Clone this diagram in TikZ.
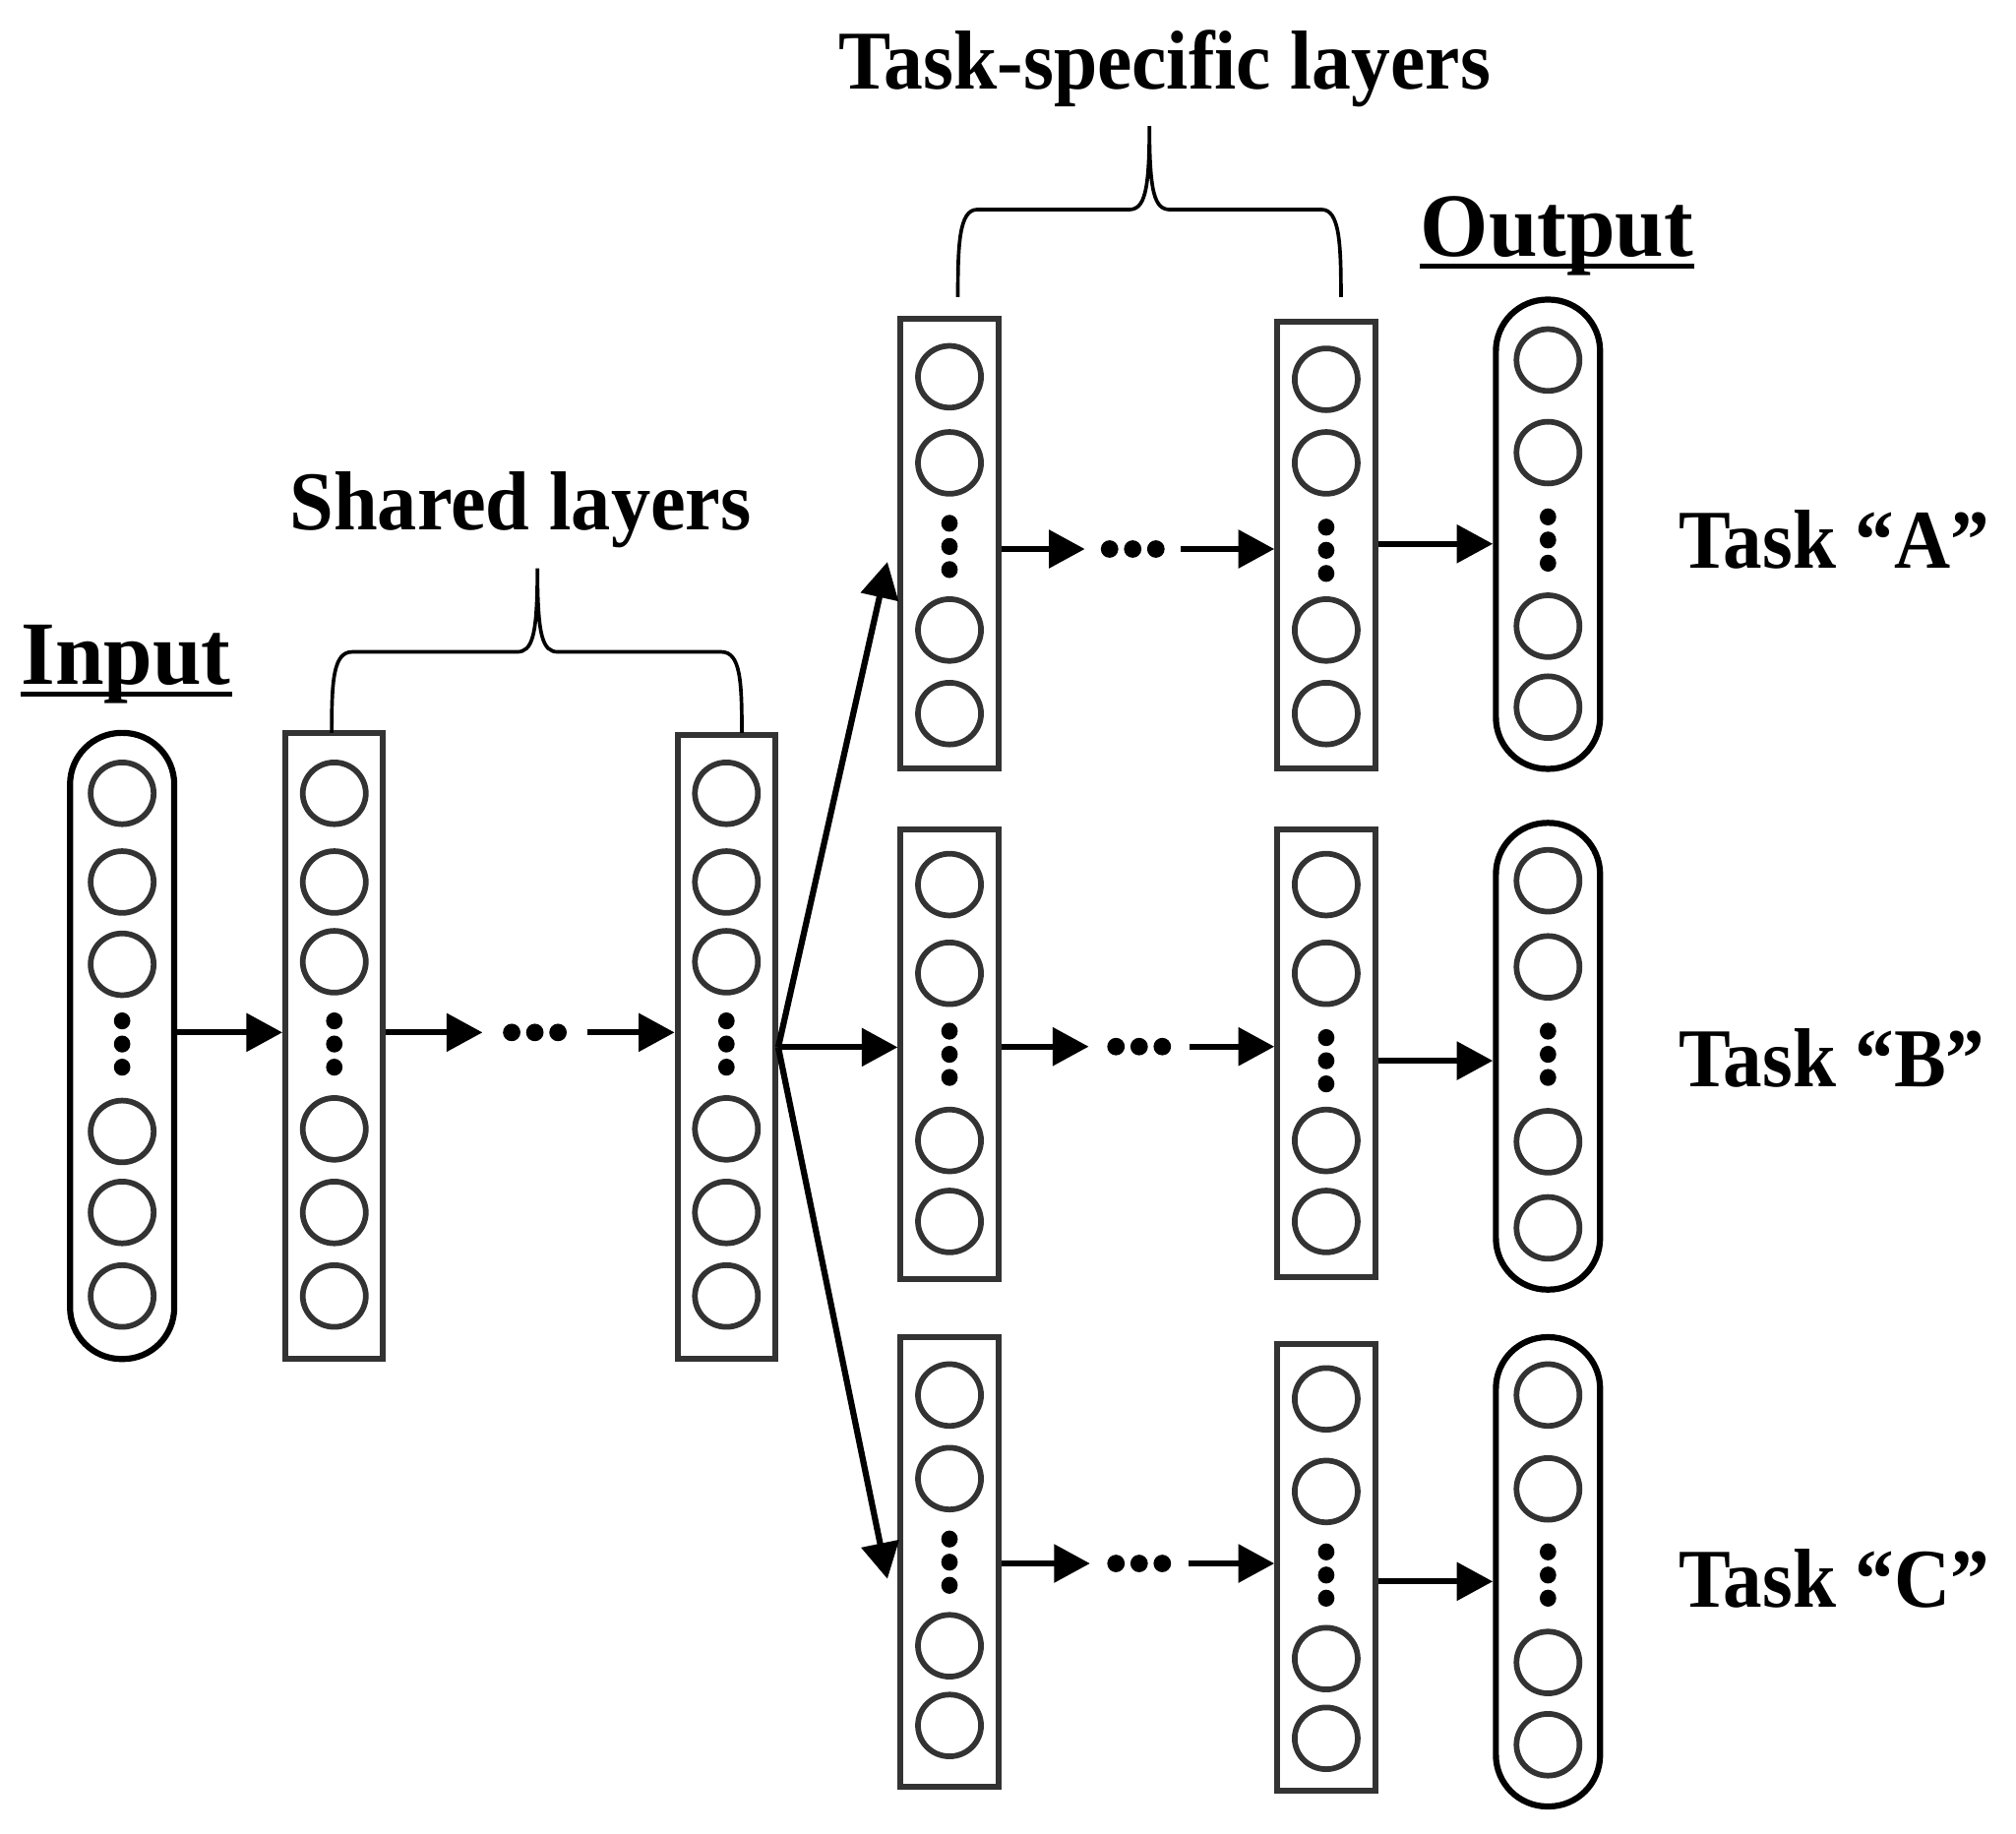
\documentclass[tikz,border=0pt]{standalone}
\usepackage{fontspec}
\setmainfont{Liberation Serif}
\usetikzlibrary{arrows.meta,calc}
\definecolor{boxgray}{HTML}{333333}
\tikzset{
 layerbox/.style={draw=boxgray, line width=1.3pt, rectangle, inner sep=0pt, minimum width=0.76cm},
 capsule/.style={draw=black, line width=1.35pt, rectangle, rounded corners=0.4cm, inner sep=0pt, minimum width=0.81cm},
 neuron/.style={draw=boxgray, line width=1.25pt},
 conn/.style={line width=1.35pt, -{Triangle[length=0.28cm,width=0.29cm]}},
 bracepath/.style={line width=0.8pt},
 lbl/.style={inner sep=0pt, anchor=base, font=\bfseries\fontsize{18.5}{22}\selectfont},
 biglbl/.style={inner sep=0pt, anchor=base, font=\bfseries\fontsize{20}{24}\selectfont},
 hdots/.style={inner sep=0pt, minimum height=0.2cm},
}
\newcommand\mylayer[7]{%
 \node[#2, minimum height={(#5-#4)*0.01cm}] (#1) at (#3,{(#4+#5)/2}) {};
 \foreach \yy in {#6} {\draw[neuron] (#3,\yy) ellipse [x radius=0.245cm, y radius=0.24cm];}
 \foreach \dd in {-18,0,18} {\fill (#3,{#7+\dd}) ellipse [x radius=0.064cm, y radius=0.066cm];}
}
\newcommand\myhdots[4]{%
 \node[hdots, minimum width={#4*0.01cm}] (#1) at (#2,#3) {};
 \foreach \dd in {-18,0,18} {\fill ({#2+\dd},#3) ellipse [x radius=0.068cm, y radius=0.068cm];}
}
\begin{document}
\begin{tikzpicture}[x=0.01cm, y=-0.01cm]
\useasboundingbox[fill=white] (0,0) rectangle (1568,1426);
% shared part
\mylayer{inp}{capsule}{95}{570}{1057}{617,686,750,880,943,1008}{812}
\mylayer{sh1}{layerbox}{260}{570}{1057}{617,686,748,878,943,1008}{812}
\mylayer{sh2}{layerbox}{565}{572}{1057}{617,686,748,878,943,1008}{812}
\myhdots{dS}{416}{803}{80}
% task A
\mylayer{a1}{layerbox}{738.5}{248}{598}{293,360,490,555}{425}
\mylayer{a2}{layerbox}{1031.5}{250}{598}{295,360,490,555}{428}
\mylayer{ao}{capsule}{1204}{233}{598}{280,352,487,550}{420}
\myhdots{dA}{881}{427}{73}
% task B
\mylayer{b1}{layerbox}{738.5}{645}{995}{688,757,887,950}{820}
\mylayer{b2}{layerbox}{1031.5}{645}{993}{688,757,887,950}{825}
\mylayer{bo}{capsule}{1204}{640}{1003}{685,752,888,955}{820}
\myhdots{dB}{886}{814}{77}
% task C
\mylayer{c1}{layerbox}{738.5}{1040}{1390}{1085,1150,1280,1342}{1215}
\mylayer{c2}{layerbox}{1031.5}{1045}{1393}{1088,1160,1290,1352}{1225}
\mylayer{co}{capsule}{1204}{1040}{1405}{1085,1158,1293,1357}{1225}
\myhdots{dC}{886}{1216}{75}
% connectors
\draw[conn] (inp.east |- 0,803) -- (sh1.west |- 0,803);
\draw[conn] (sh1.east |- dS) -- (dS.west);
\draw[conn] (dS.east) -- (sh2.west |- dS);
\draw[conn] (sh2.east) -- ($(a1.west)+(-8,14)$);
\draw[conn] (sh2.east) -- (b1.west |- sh2.east);
\draw[conn] (sh2.east) -- ($(c1.west)+(-8,13)$);
\draw[conn] (a1.east |- dA) -- (dA.west);
\draw[conn] (dA.east) -- (a2.west |- dA);
\draw[conn] (a2.east |- 0,423) -- (ao.west |- 0,423);
\draw[conn] (b1.east |- dB) -- (dB.west);
\draw[conn] (dB.east) -- (b2.west |- dB);
\draw[conn] (b2.east |- 0,825) -- (bo.west |- 0,825);
\draw[conn] (c1.east |- dC) -- (dC.west);
\draw[conn] (dC.east) -- (c2.west |- dC);
\draw[conn] (c2.east |- 0,1230) -- (co.west |- 0,1230);
% braces
\draw[bracepath] (258,570) .. controls (258,530) and (259,507) .. (274,507) -- (402,507)
  .. controls (414,507) and (418,495) .. (418,442)
  .. controls (418,495) and (422,507) .. (434,507) -- (561,507)
  .. controls (576,507) and (577,530) .. (577,570);
\draw[bracepath] (745,231) .. controls (745,190) and (746,163) .. (760,163) -- (878,163)
  .. controls (890,163) and (894,150) .. (894,98)
  .. controls (894,150) and (898,163) .. (910,163) -- (1028,163)
  .. controls (1042,163) and (1043,190) .. (1043,231);
% labels
\node[lbl] (tsl) at (906,69) {\scalebox{0.936}[1]{Task-specific layers}};
\node[lbl] (shl) at (405,412) {\scalebox{0.945}[1]{Shared layers}};
\node[biglbl] (inl) at (98,532) {\scalebox{0.97}[1]{Input}};
\draw[line width=1pt] ($(inl.base west)+(0,8)$) -- ($(inl.base east)+(0,8)$);
\node[biglbl] (outl) at (1211,199) {\scalebox{0.97}[1]{Output}};
\draw[line width=1pt] ($(outl.base west)+(0,8)$) -- ($(outl.base east)+(0,8)$);
\node[lbl, anchor=base west] (ta) at (1305,442) {\scalebox{0.93}[1]{Task “A”}};
\node[lbl, anchor=base west] (tb) at (1305,845) {\scalebox{0.93}[1]{Task “B”}};
\node[lbl, anchor=base west] (tc) at (1305,1250) {\scalebox{0.93}[1]{Task “C”}};
\end{tikzpicture}
\end{document}
